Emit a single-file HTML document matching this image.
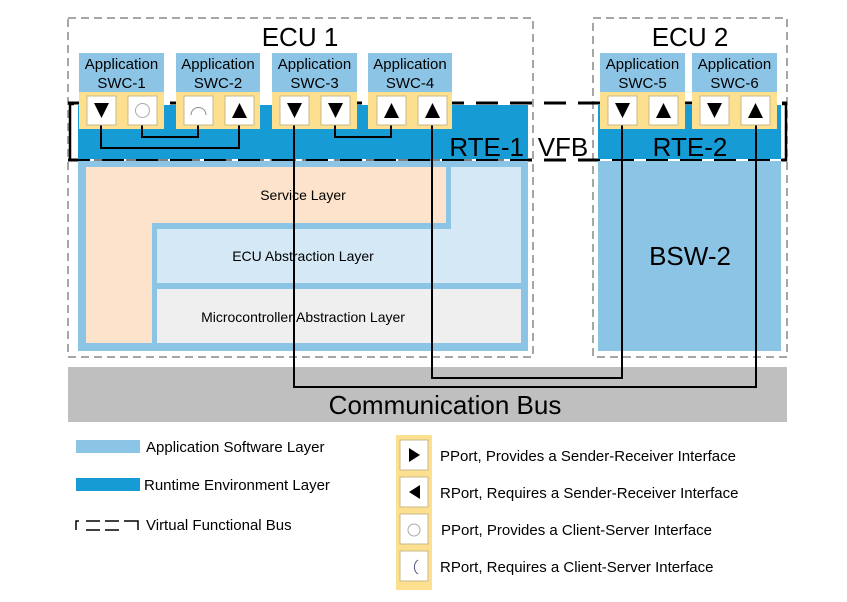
<!DOCTYPE html>
<html><head><meta charset="utf-8"><style>body{margin:0;background:#fff}svg{display:block}text{font-family:"Liberation Sans",sans-serif}</style></head><body>
<svg width="847" height="602" viewBox="0 0 847 602" xmlns="http://www.w3.org/2000/svg">
<rect width="847" height="602" fill="#fff"/>
<!-- ECU boxes -->
<rect x="68" y="18" width="465" height="339" fill="none" stroke="#888" stroke-width="1.5" stroke-dasharray="8,5"/>
<rect x="593" y="18" width="194" height="339" fill="none" stroke="#888" stroke-width="1.5" stroke-dasharray="8,5"/>
<text x="300" y="46" font-size="26" text-anchor="middle">ECU 1</text>
<text x="690" y="46" font-size="26" text-anchor="middle">ECU 2</text>
<!-- VFB (behind) -->
<g stroke="#000" stroke-width="3" fill="none">
<path d="M68,103 H787" stroke-dasharray="22,12"/>
<path d="M68,160 H787" stroke-dasharray="22,12"/>
<path d="M74,104 H70 V160 H76 M782,104 H786 V160 H781" stroke-width="2.5"/>
</g>
<!-- ECU1 layers -->
<rect x="78" y="105" width="450" height="54" fill="#169bd5"/>
<path d="M78,160 H528" stroke="#000" stroke-width="1" stroke-dasharray="10,6"/>
<rect x="78" y="161" width="450" height="190" fill="#8cc4e6"/>
<rect x="451" y="167" width="70" height="116" fill="#d5e8f5"/>
<rect x="157" y="229" width="364" height="54" fill="#d5e8f5"/>
<rect x="86" y="167" width="360" height="56" fill="#fde3cc"/>
<rect x="86" y="167" width="66" height="176" fill="#fde3cc"/>
<rect x="157" y="289" width="364" height="54" fill="#efefef"/>
<text x="303" y="200" font-size="14" text-anchor="middle">Service Layer</text>
<text x="303" y="261" font-size="14" text-anchor="middle">ECU Abstraction Layer</text>
<text x="303" y="322" font-size="14" text-anchor="middle">Microcontroller Abstraction Layer</text>
<text x="524" y="156" font-size="26" text-anchor="end">RTE-1</text>
<!-- ECU2 -->
<rect x="598" y="105" width="183" height="54" fill="#169bd5"/>
<rect x="598" y="161" width="183" height="190" fill="#8cc4e6"/>
<text x="690" y="156" font-size="26" text-anchor="middle">RTE-2</text>
<text x="690" y="265" font-size="26" text-anchor="middle">BSW-2</text>
<!-- bus -->
<rect x="68" y="367" width="719" height="55" fill="#bfbfbf"/>
<text x="445" y="414" font-size="26" text-anchor="middle">Communication Bus</text>
<text x="563" y="156" font-size="26" text-anchor="middle">VFB</text>
<!-- SWCs -->
<g font-size="15" text-anchor="middle">
<rect x="79" y="53" width="85" height="39" fill="#8cc4e6"/><rect x="79" y="92" width="85" height="37" fill="#fde08f"/><text x="121.5" y="69">Application</text><text x="121.5" y="88">SWC-1</text>
<rect x="176" y="53" width="84" height="39" fill="#8cc4e6"/><rect x="176" y="92" width="84" height="37" fill="#fde08f"/><text x="218" y="69">Application</text><text x="218" y="88">SWC-2</text>
<rect x="272" y="53" width="85" height="39" fill="#8cc4e6"/><rect x="272" y="92" width="85" height="37" fill="#fde08f"/><text x="314.5" y="69">Application</text><text x="314.5" y="88">SWC-3</text>
<rect x="368" y="53" width="84" height="39" fill="#8cc4e6"/><rect x="368" y="92" width="84" height="37" fill="#fde08f"/><text x="410" y="69">Application</text><text x="410" y="88">SWC-4</text>
<rect x="600" y="53" width="85" height="39" fill="#8cc4e6"/><rect x="600" y="92" width="85" height="37" fill="#fde08f"/><text x="642.5" y="69">Application</text><text x="642.5" y="88">SWC-5</text>
<rect x="692" y="53" width="85" height="39" fill="#8cc4e6"/><rect x="692" y="92" width="85" height="37" fill="#fde08f"/><text x="734.5" y="69">Application</text><text x="734.5" y="88">SWC-6</text>
</g>
<!-- connectors -->
<g stroke="#000" stroke-width="2" fill="none">
<path d="M101,125 V148 H239 V125"/>
<path d="M142,125 V137 H198 V125"/>
<path d="M335,125 V137 H391 V125"/>
<path d="M294,125 V387 H756 V125"/>
<path d="M432,125 V378 H622 V125"/>
</g>
<!-- ports -->
<g stroke="#c8b98a" stroke-width="1" fill="#fff">
<rect x="87" y="96" width="29" height="29"/><rect x="128" y="96" width="29" height="29"/>
<rect x="184" y="96" width="29" height="29"/><rect x="225" y="96" width="29" height="29"/>
<rect x="280" y="96" width="29" height="29"/><rect x="321" y="96" width="29" height="29"/>
<rect x="377" y="96" width="29" height="29"/><rect x="418" y="96" width="29" height="29"/>
<rect x="608" y="96" width="29" height="29"/><rect x="649" y="96" width="29" height="29"/>
<rect x="700" y="96" width="29" height="29"/><rect x="741" y="96" width="29" height="29"/>
</g>
<g fill="#000">
<path d="M94,103 h15 l-7.5,15z"/>
<path d="M287,103 h15 l-7.5,15z"/><path d="M328,103 h15 l-7.5,15z"/>
<path d="M615,103 h15 l-7.5,15z"/><path d="M707,103 h15 l-7.5,15z"/>
<path d="M232,118 h15 l-7.5,-15z"/>
<path d="M384,118 h15 l-7.5,-15z"/><path d="M425,118 h15 l-7.5,-15z"/>
<path d="M656,118 h15 l-7.5,-15z"/><path d="M748,118 h15 l-7.5,-15z"/>
</g>
<circle cx="142.5" cy="110.5" r="7" fill="none" stroke="#aaa"/>
<path d="M191,115 a7.5,7.5 0 0 1 15,0" fill="none" stroke="#888"/>
<!-- legend -->
<rect x="76" y="440" width="64" height="13" fill="#8cc4e6"/>
<text x="146" y="452" font-size="15">Application Software Layer</text>
<rect x="76" y="478" width="64" height="13" fill="#169bd5"/>
<text x="144" y="490" font-size="15">Runtime Environment Layer</text>
<path d="M76,530 v-9 h3 M86,530 h14 M86,521 h14 M105,530 h14 M105,521 h14 M124,521 h14 v9" stroke="#000" stroke-width="1.5" fill="none"/>
<text x="146" y="530" font-size="15">Virtual Functional Bus</text>
<rect x="396" y="435" width="36" height="155" fill="#fde08f"/>
<g fill="#fff" stroke="#c8b98a"><rect x="400" y="440" width="28" height="30"/><rect x="400" y="477" width="28" height="30"/><rect x="400" y="514" width="28" height="30"/><rect x="400" y="551" width="28" height="30"/></g>
<path d="M409,448 l11,7 l-11,7z"/><path d="M420,485 l-11,7 l11,7z"/>
<circle cx="414" cy="530" r="6" fill="none" stroke="#aaa"/>
<path d="M418,560 a7,8 0 0 0 0,14" fill="none" stroke="#557"/>
<g font-size="15"><text x="440" y="461">PPort, Provides a Sender-Receiver Interface</text>
<text x="440" y="498">RPort, Requires a Sender-Receiver Interface</text>
<text x="441" y="535">PPort, Provides a Client-Server Interface</text>
<text x="440" y="572">RPort, Requires a Client-Server Interface</text></g>
</svg>
</body></html>
